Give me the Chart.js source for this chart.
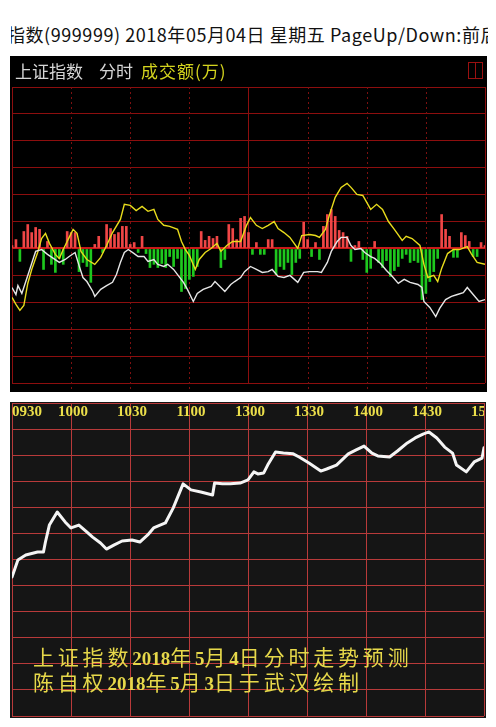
<!DOCTYPE html>
<html>
<head>
<meta charset="utf-8">
<script src="https://cdn.jsdelivr.net/npm/chart.js@4.4.1/dist/chart.umd.min.js"></script>
<style>
  body { margin: 0; width: 496px; height: 727px; background: #fff; position: relative; overflow: hidden; font-family: 'Noto Sans CJK SC', sans-serif; }
  #title { position: absolute; left: 11px; top: 20px; width: 477px; overflow: hidden; white-space: nowrap; font-size: 18px; line-height: 28px; color: #111; letter-spacing: 0.55px; }
  #title span { margin-left: -4px; }
  #topBox { position: absolute; left: 10px; top: 56px; width: 477px; height: 336px; background: #000; }
  #topHead { position: absolute; left: 5px; top: 4px; font-size: 17px; line-height: 22px; color: #d6d6d6; white-space: nowrap; z-index: 2; }
  #topHead .fs { margin-left: 16px; }
  #topHead .amt { color: #d4d41e; margin-left: 8px; letter-spacing: 1px; }
  #flag { position: absolute; left: 458px; top: 6px; width: 13px; height: 15px; border: 1px solid #9a1010; z-index: 2; }
  #flag::after { content: ''; position: absolute; left: 6px; top: 0; width: 1px; height: 15px; background: #9a1010; }
  #botBox { position: absolute; left: 10px; top: 402px; width: 476px; height: 316px; background: #151515; }
  #note { position: absolute; left: 33px; top: 645px; color: #e6d84a; font-size: 21px; line-height: 23px; white-space: nowrap; z-index: 2; }
  #note .c { letter-spacing: 3.8px; }
  #note .d { font-family: 'Liberation Serif', serif; font-weight: bold; font-size: 19px; }
  canvas { position: absolute; left: 0; top: 0; }
</style>
</head>
<body>
<div id="title"><span>指数(999999) 2018年05月04日 星期五 PageUp/Down:前后</span></div>

<div id="topBox">
  <div id="topHead"><span>上证指数</span><span class="fs">分时</span><span class="amt">成交额(万)</span></div>
  <div id="flag"></div>
  <canvas id="topChart" width="477" height="336"></canvas>
</div>

<div id="botBox">
  <canvas id="botChart" width="476" height="316"></canvas>
</div>

<div id="note">
  <div><span class="c">上证指数</span><span class="d">2018</span><span class="c">年</span><span class="d">5</span><span class="c">月</span><span class="d">4</span><span class="c">日分时走势预测</span></div>
  <div><span class="c">陈自权</span><span class="d">2018</span><span class="c">年</span><span class="d">5</span><span class="c">月</span><span class="d">3</span><span class="c">日于武汉绘制</span></div>
</div>

<script>
// minutes since 09:30 (0..240, lunch break removed); values in grid rows from the zero line
const priceMinutes = [0,2,3,5,7,9,11,12,15,18,21,24,27,29,32,34,36,38,41,42,45,48,51,53,55,57,59,62,64,67,69,72,74,77,79,82,84,87,89,92,94,97,101,103,106,108,111,113,116,118,121,124,127,130,132,135,138,141,145,148,151,155,157,160,162,165,167,170,172,174,177,179,182,184,187,190,193,196,199,202,206,208,209,212,215,217,220,223,226,229,231,234,237,240];
const priceValues = [-1.45,-1.71,-1.38,-1.67,-1.23,-0.78,-0.33,-0.11,-0.04,-0.22,-0.37,-0.52,-0.41,-0.30,-0.15,-0.63,-1.08,-1.23,-1.60,-1.78,-1.52,-1.38,-1.26,-0.97,-0.52,-0.15,-0.04,-0.19,-0.30,-0.30,-0.48,-0.41,-0.59,-0.67,-0.59,-0.78,-0.97,-1.26,-1.52,-1.97,-1.67,-1.52,-1.41,-1.23,-1.45,-1.60,-1.34,-1.23,-1.08,-0.86,-0.67,-0.78,-0.89,-0.86,-0.78,-1.04,-1.08,-1.00,-1.26,-0.89,-0.86,-0.86,-0.89,-0.52,-0.11,0.26,0.41,0.41,0.11,-0.04,0.00,-0.15,-0.30,-0.37,-0.56,-0.82,-1.04,-1.30,-1.15,-1.26,-1.34,-1.45,-1.97,-2.19,-2.53,-2.23,-1.90,-1.78,-1.71,-1.64,-1.45,-1.71,-1.97,-1.90];

const avgMinutes = [0,2,4,6,8,10,13,15,17,19,22,24,26,29,31,33,35,38,42,45,48,51,55,57,60,63,66,69,72,74,77,80,84,86,88,90,93,95,98,101,104,106,109,112,116,119,121,124,127,130,133,135,138,141,145,147,151,154,156,159,161,164,167,170,172,175,178,180,182,185,188,191,194,198,200,203,207,209,211,214,216,218,221,224,227,231,233,236,240];
const avgValues = [-1.82,-2.08,-2.30,-2.12,-1.30,-0.78,-0.15,0.37,0.56,0.19,-0.22,-0.37,-0.04,0.41,0.71,0.56,-0.11,-0.41,-0.59,-0.33,0.11,0.59,1.08,1.64,1.60,1.41,1.56,1.38,1.45,1.08,0.86,0.82,0.71,0.26,-0.04,-0.26,-0.78,-0.41,-0.15,0.00,0.19,-0.11,0.11,0.26,0.26,0.86,1.15,0.86,0.74,0.86,1.00,0.74,0.59,0.41,0.00,0.48,0.52,0.48,0.41,0.71,1.23,1.90,2.27,2.42,2.27,2.01,1.97,1.71,1.45,1.64,1.45,1.00,0.71,0.30,0.45,0.37,0.11,-0.59,-1.08,-1.00,-1.23,-0.74,-0.19,-0.04,-0.04,0.07,-0.19,-0.52,-0.59];

// one bar every 2 minutes, up = red, down = green
const volValues = [0.11,0.33,-0.48,0.63,0.89,0.59,0.78,0.71,-0.78,0.26,
  -0.59,-0.89,-0.37,-0.59,0.63,0.59,0.59,-0.86,-0.52,-0.67,
  -1.26,0.15,0.45,-0.15,0.89,0.74,0.52,0.59,0.82,0.82,
  0.15,0.22,-0.15,0.45,-0.19,-0.71,-0.59,-0.71,-0.56,-0.71,
  -0.30,-0.67,-0.37,-1.60,-1.49,-1.15,-1.04,-0.67,0.63,0.30,
  0.45,0.37,0.45,-0.71,-0.41,0.89,0.74,0.33,1.12,1.19,
  0.59,-0.22,0.22,-0.22,-0.22,0.33,0.33,-0.97,-0.67,-0.78,
  -0.52,-0.97,-0.52,-0.37,0.97,0.33,-0.30,0.22,-0.41,0.82,
  1.26,1.45,1.19,0.67,0.59,0.45,-0.48,0.11,0.26,-0.41,
  -0.89,-0.74,0.26,-0.52,-0.71,-0.45,-1.04,-0.82,-0.67,-0.37,
  -0.22,-0.52,-0.45,-0.52,-1.90,-1.67,-1.23,-0.86,-0.37,1.26,
  0.71,0.45,-0.33,-0.33,0.59,0.48,0.26,-0.30,-0.30,0.22,
  0.11];
const volMinutes = volValues.map((v, i) => i * 2);

const dottedMinutes = [30, 60, 90, 150, 180, 210];

// forecast panel
const forecastMinutes = [0,3,7,13,16,17,19,23,27,30,34,38,41,45,48,52,56,61,65,69,72,78,82,87,91,96,102,103,107,111,116,120,123,125,128,130,134,138,143,146,151,157,160,165,171,175,179,183,186,192,196,201,205,209,212,216,220,224,226,231,235,239,240];
const forecastValues = [5.33,5.98,6.17,6.29,6.29,6.67,7.32,7.82,7.44,7.21,7.32,7.06,6.86,6.63,6.40,6.56,6.71,6.75,6.67,6.94,7.21,7.40,7.98,8.90,8.67,8.59,8.47,8.93,8.90,8.90,8.93,9.05,9.36,9.28,9.32,9.62,10.12,10.08,10.05,9.93,9.70,9.39,9.47,9.62,10.05,10.20,10.35,10.08,9.97,9.93,10.16,10.47,10.66,10.81,10.89,10.66,10.31,10.08,9.62,9.36,9.74,9.89,10.28];

const timeLabels = ['0930', '1000', '1030', '1100', '1300', '1330', '1400', '1430', '1500'];
const labelMinutes = [0, 30, 60, 90, 120, 150, 180, 210, 240];

const pts = (xs, ys) => xs.map((x, i) => ({ x: x, y: ys[i] }));

const dottedGrid = {
  id: 'dottedGrid',
  beforeDatasetsDraw(chart) {
    const { ctx, chartArea: a, scales: { x } } = chart;
    ctx.save();
    ctx.strokeStyle = '#7c1010';
    ctx.lineWidth = 1;
    ctx.setLineDash([2, 3]);
    dottedMinutes.forEach(m => {
      const px = Math.round(x.getPixelForValue(m)) + 0.5;
      ctx.beginPath();
      ctx.moveTo(px, a.top);
      ctx.lineTo(px, a.bottom + 7);
      ctx.stroke();
    });
    ctx.restore();
  }
};

const timeRow = {
  id: 'timeRow',
  afterDraw(chart) {
    const { ctx, chartArea: a, scales: { x, y } } = chart;
    ctx.save();
    ctx.beginPath();
    ctx.rect(a.left, a.top, a.right - a.left, a.bottom - a.top);
    ctx.clip();
    ctx.font = "bold 15px 'Liberation Serif', serif";
    ctx.fillStyle = '#ecdf4a';
    ctx.textBaseline = 'middle';
    const ty = y.getPixelForValue(11.65);
    timeLabels.forEach((t, i) => {
      const px = x.getPixelForValue(labelMinutes[i]);
      if (i === 0) { ctx.textAlign = 'left'; ctx.fillText(t, px, ty); }
      else { ctx.textAlign = 'center'; ctx.fillText(t, px + 2, ty); }
    });
    ctx.restore();
  }
};

new Chart(document.getElementById('topChart'), {
  type: 'bar',
  data: {
    datasets: [
      { type: 'line', label: '价格', data: pts(priceMinutes, priceValues), borderColor: '#e6e6e6', borderWidth: 1.4, pointRadius: 0, order: 1 },
      { type: 'line', label: '均价', data: pts(avgMinutes, avgValues), borderColor: '#e8dc1c', borderWidth: 1.4, pointRadius: 0, order: 2 },
      { type: 'bar', label: '成交额', data: pts(volMinutes, volValues), barThickness: 2,
        backgroundColor: c => (c.raw && c.raw.y < 0) ? '#1ec81e' : '#f04646', order: 3 }
    ]
  },
  options: {
    responsive: false, animation: false, devicePixelRatio: 1,
    layout: { padding: { left: 2, right: 2, top: 31, bottom: 9 } },
    plugins: { legend: { display: false }, tooltip: { enabled: false } },
    scales: {
      x: { type: 'linear', min: 0, max: 240, offset: false,
        ticks: { display: false, stepSize: 30 },
        grid: { offset: false, drawTicks: false, color: c => [0, 120, 240].includes(c.tick.value) ? '#8c0e0e' : 'rgba(0,0,0,0)' },
        border: { display: false } },
      y: { min: -5, max: 6,
        ticks: { display: false, stepSize: 1 },
        grid: { drawTicks: false, color: c => c.tick.value === 0 ? '#c81818' : '#8c0e0e', lineWidth: c => c.tick.value === 0 ? 2 : 1 },
        border: { display: false } }
    }
  },
  plugins: [dottedGrid]
});

new Chart(document.getElementById('botChart'), {
  type: 'line',
  data: {
    datasets: [{ label: '预测', data: pts(forecastMinutes, forecastValues), borderColor: '#f5f5f5', borderWidth: 3,
      pointRadius: 0, borderJoinStyle: 'round', borderCapStyle: 'round' }]
  },
  options: {
    responsive: false, animation: false, devicePixelRatio: 1,
    layout: { padding: { left: 2, right: 2, top: 1, bottom: 2 } },
    plugins: { legend: { display: false }, tooltip: { enabled: false } },
    scales: {
      x: { type: 'linear', min: 0, max: 240, ticks: { display: false, stepSize: 30 },
        grid: { drawTicks: false, color: '#b83a3a' }, border: { display: false } },
      y: { min: 0, max: 12, ticks: { display: false, stepSize: 1 },
        grid: { drawTicks: false, color: '#b83a3a' }, border: { display: false } }
    }
  },
  plugins: [timeRow]
});
</script>
</body>
</html>
